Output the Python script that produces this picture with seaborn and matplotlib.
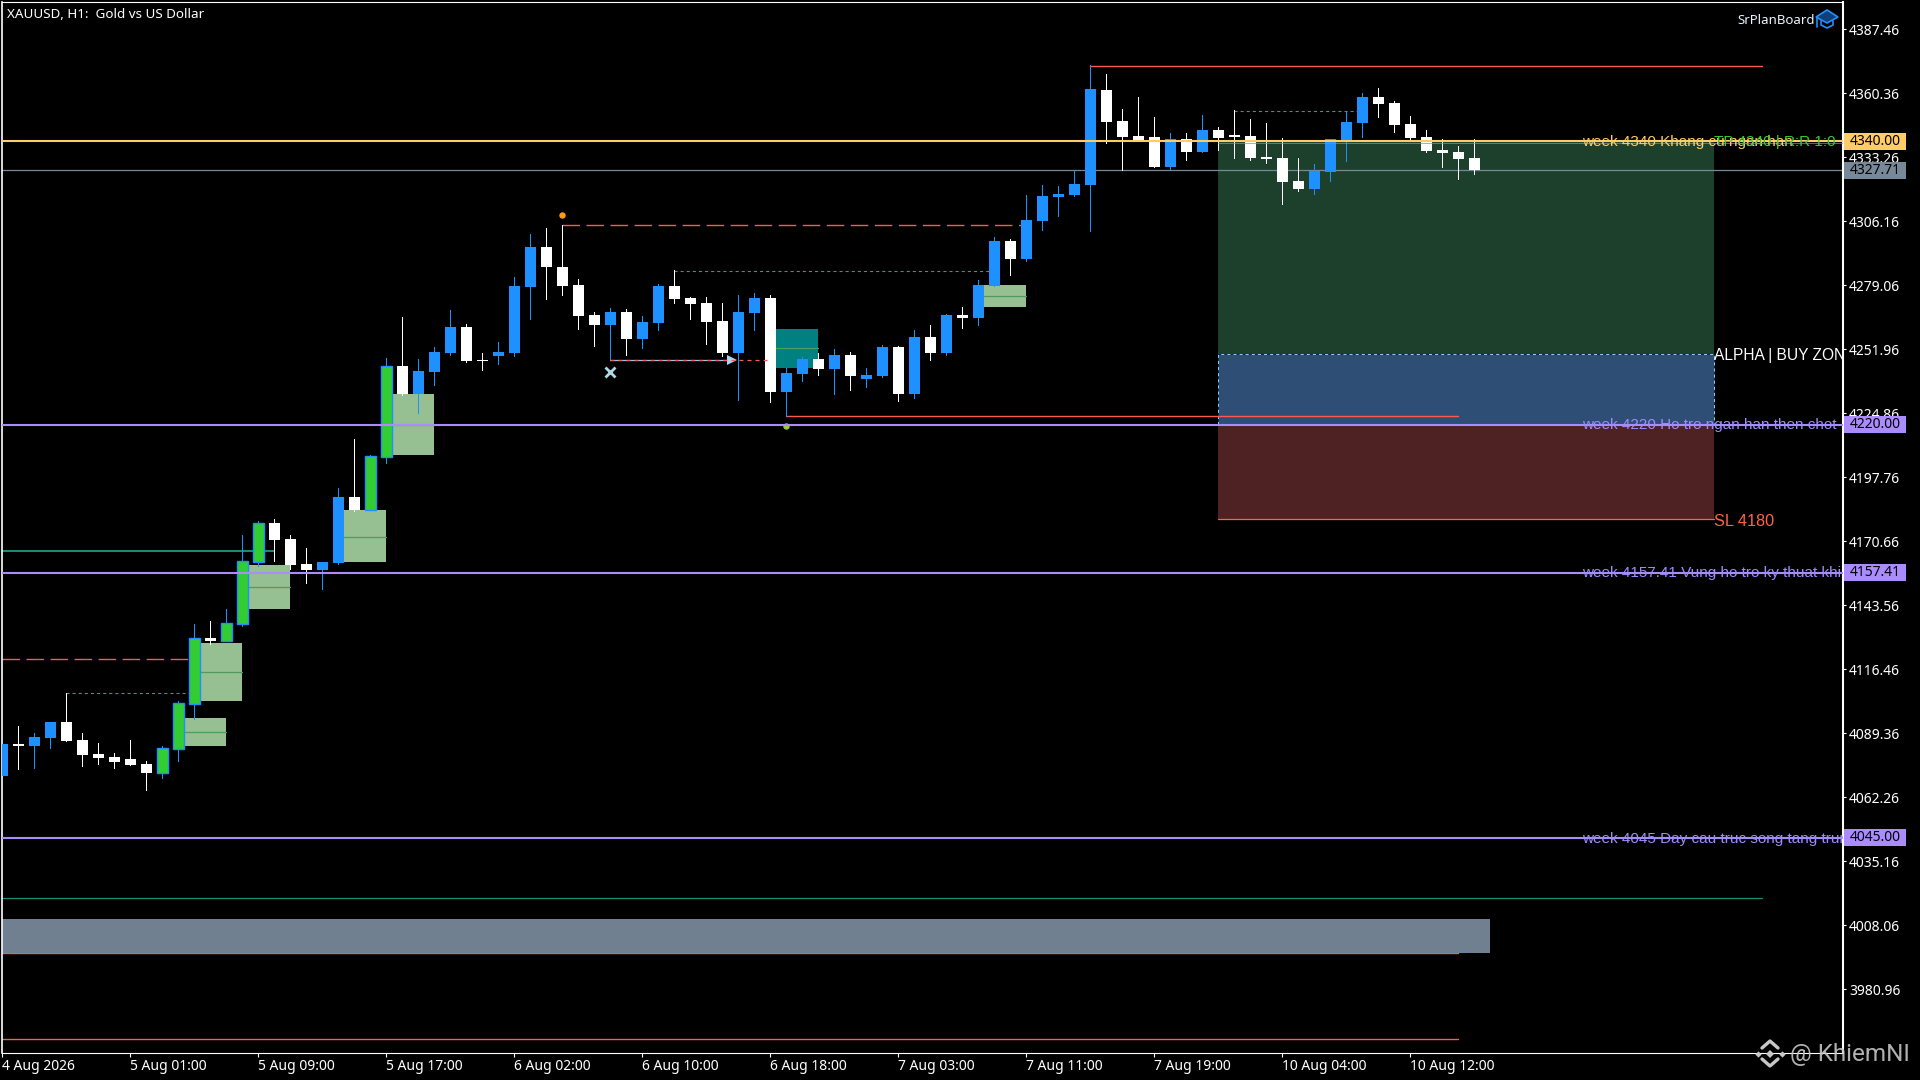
import numpy as np
import pandas as pd
import matplotlib
matplotlib.use('Agg')
import matplotlib.pyplot as plt
from matplotlib.lines import Line2D
from matplotlib.patches import Polygon, Rectangle
import seaborn as sns

# H1 candles (first one is cut by the left edge)
opens = [4071.3, 4084.7, 4083.9, 4087.2, 4094.0, 4086.4, 4080.5, 4079.2, 4078.4, 4076.2,
         4072.4, 4082.6, 4101.6, 4129.6, 4128.3, 4135.5, 4161.8, 4178.3, 4171.5, 4160.9,
         4158.4, 4161.3, 4189.3, 4183.8, 4206.2, 4244.8, 4232.9, 4242.2, 4250.3, 4261.3,
         4247.3, 4249.0, 4250.3, 4278.2, 4295.2, 4286.7, 4279.1, 4266.4, 4262.1, 4267.6,
         4256.2, 4263.0, 4278.6, 4273.6, 4271.4, 4263.8, 4250.3, 4267.2, 4273.6, 4233.8,
         4241.4, 4247.7, 4243.5, 4249.4, 4239.3, 4240.5, 4252.8, 4232.9, 4257.0, 4250.3,
         4266.4, 4265.1, 4278.6, 4297.7, 4290.1, 4306.2, 4316.3, 4317.2, 4321.4, 4361.6,
         4348.5, 4342.2, 4341.7, 4329.0, 4340.9, 4335.4, 4344.7, 4342.6, 4342.2, 4333.3,
         4332.8, 4323.1, 4319.7, 4326.9, 4339.6, 4347.7, 4358.7, 4356.1, 4347.2, 4341.7,
         4336.2, 4335.4, 4332.8]
highs = [4084.7, 4092.3, 4089.4, 4094.0, 4106.6, 4089.4, 4085.1, 4080.9, 4086.4, 4077.5,
         4083.9, 4102.9, 4135.5, 4136.8, 4141.9, 4173.2, 4179.1, 4180.0, 4173.2, 4167.7,
         4161.8, 4193.1, 4213.9, 4207.1, 4248.2, 4265.5, 4247.7, 4252.8, 4268.5, 4262.5,
         4250.3, 4254.9, 4282.5, 4300.7, 4303.2, 4304.5, 4281.6, 4267.6, 4269.3, 4268.9,
         4265.9, 4279.5, 4285.4, 4274.0, 4274.0, 4271.4, 4274.8, 4275.7, 4274.8, 4243.9,
         4248.6, 4250.3, 4252.0, 4250.7, 4243.9, 4253.6, 4253.2, 4260.0, 4262.1, 4266.8,
         4269.7, 4281.2, 4299.4, 4298.5, 4317.2, 4321.4, 4321.0, 4327.8, 4372.2, 4368.4,
         4353.6, 4358.7, 4350.2, 4343.4, 4343.4, 4351.0, 4346.0, 4353.2, 4349.3, 4347.7,
         4341.3, 4332.8, 4330.3, 4340.9, 4352.7, 4360.4, 4362.5, 4357.0, 4350.6, 4344.7,
         4340.9, 4337.9, 4340.9]
lows = [4071.3, 4074.1, 4074.5, 4083.0, 4086.0, 4075.4, 4076.2, 4074.5, 4075.8, 4065.2,
        4070.3, 4077.5, 4095.3, 4127.0, 4128.3, 4134.7, 4160.1, 4162.2, 4158.8, 4152.9,
        4150.3, 4160.9, 4183.4, 4183.8, 4203.7, 4232.5, 4224.9, 4236.7, 4249.4, 4246.5,
        4243.1, 4245.6, 4249.0, 4264.7, 4273.1, 4274.8, 4260.4, 4253.2, 4247.3, 4249.4,
        4252.4, 4260.0, 4271.4, 4264.7, 4254.1, 4249.0, 4230.4, 4260.0, 4229.5, 4223.6,
        4238.4, 4240.9, 4232.9, 4234.6, 4235.9, 4240.1, 4229.9, 4231.2, 4247.3, 4249.4,
        4260.8, 4262.1, 4278.6, 4283.3, 4289.2, 4302.4, 4308.3, 4316.7, 4301.9, 4339.2,
        4327.8, 4340.5, 4329.0, 4328.2, 4332.0, 4335.4, 4336.2, 4332.8, 4332.0, 4330.7,
        4313.4, 4318.9, 4317.6, 4323.1, 4331.6, 4341.7, 4350.2, 4343.9, 4340.9, 4335.4,
        4329.0, 4323.9, 4326.1]
closes = [4084.7, 4083.9, 4087.7, 4094.0, 4086.0, 4080.0, 4078.8, 4077.1, 4075.8, 4072.4,
          4083.0, 4102.1, 4129.6, 4128.3, 4135.9, 4162.2, 4178.3, 4171.1, 4160.5, 4158.4,
          4161.8, 4189.3, 4183.8, 4206.7, 4244.8, 4232.9, 4242.6, 4250.7, 4261.3, 4246.9,
          4246.9, 4250.7, 4278.6, 4295.2, 4286.7, 4278.6, 4265.9, 4262.1, 4267.6, 4256.2,
          4263.4, 4278.6, 4273.1, 4271.0, 4263.4, 4250.3, 4267.6, 4273.6, 4233.8, 4241.8,
          4247.7, 4243.5, 4249.4, 4240.5, 4240.9, 4252.8, 4232.9, 4257.0, 4250.3, 4266.4,
          4265.1, 4279.1, 4297.7, 4290.1, 4306.6, 4316.7, 4317.6, 4321.8, 4362.1, 4348.1,
          4341.7, 4340.5, 4329.0, 4340.9, 4335.4, 4344.7, 4341.3, 4341.7, 4332.8, 4332.4,
          4322.7, 4319.7, 4327.3, 4340.9, 4348.1, 4358.7, 4355.7, 4346.8, 4341.3, 4335.8,
          4335.0, 4332.4, 4327.8]
green_bars = [10, 11, 12, 14, 15, 16, 23, 24]

# 3-bar order blocks: start bar, top, middle, bottom
block_start = [11, 12, 15, 21, 24, 61]
block_top = [4095.7, 4127.5, 4160.5, 4183.8, 4232.9, 4279.1]
block_mid = [4089.8, 4115.2, 4151.2, 4172.4, 4219.8, 4274.4]
block_bottom = [4083.8, 4102.9, 4141.9, 4161.8, 4207.1, 4269.7]
teal_start, teal_top, teal_mid, teal_bottom = 48, 4260.4, 4252.4, 4243.9

# trade zones
zone_start, zone_end = 76, 107
tp_price, entry_top, entry_bottom, sl_price = 4340.0, 4250.1, 4220.0, 4180.0

# full width levels
week_levels = [4220.0, 4157.41, 4045.0]
week_texts = ['week 4220 Ho tro ngan han then chot',
              'week 4157.41 Vung ho tro ky thuat khi',
              'week 4045 Day cau truc song tang trung']
gold_level = 4340.0
gold_text = 'week 4340 Khang cu ngan han'
tp_text = 'TP 4340 | R:R 1:0'
bid_level = 4327.71

# short structure lines: price, first bar, last bar
red_solid = [(4372.1, 68, 110), (4223.9, 49, 91), (3996.1, -1, 91), (3959.7, -1, 91)]
red_dash = [(4121.0, 0, 12), (4304.4, 35, 64)]
green_dot = [(4106.6, 4, 12), (4285.3, 42, 62), (4353.0, 77, 85)]
teal_thick = (4166.4, 0, 17)
teal_thin = (4019.4, 0, 110)
grey_band_top, grey_band_bottom, grey_band_end = 4010.6, 3996.2, 93

# trade arrow line and the single markers
arrow_price, arrow_start, arrow_end, arrow_dash_end = 4247.6, 38, 45.6, 48
cross_bar, cross_price = 38, 4242.3
orange_bar, orange_price = 35, 4308.8
lime_bar, lime_price = 49, 4219.5

y_ticks = [4387.46, 4360.36, 4333.26, 4306.16, 4279.06, 4251.96, 4224.86, 4197.76,
           4170.66, 4143.56, 4116.46, 4089.36, 4062.26, 4035.16, 4008.06, 3980.96]
x_tick_bars = [0, 8, 16, 24, 32, 40, 48, 56, 64, 72, 80, 88]
x_tick_labels = ['4 Aug 2026', '5 Aug 01:00', '5 Aug 09:00', '5 Aug 17:00', '6 Aug 02:00',
                 '6 Aug 10:00', '6 Aug 18:00', '7 Aug 03:00', '7 Aug 11:00', '7 Aug 19:00',
                 '10 Aug 04:00', '10 Aug 12:00']

BLUE = '#1E90FF'
GREEN = '#32CD32'
PURPLE = '#AA8CFF'
GOLD = '#FFCC66'
SLATE = '#778899'
RED = '#FF5A50'
TEAL = '#14907A'
LOGO = '#C8C8C8'

sns.set_theme(style='dark', rc={
    'figure.facecolor': 'black', 'axes.facecolor': 'black', 'savefig.facecolor': 'black',
    'axes.edgecolor': 'white', 'text.color': 'white', 'xtick.color': 'white',
    'ytick.color': 'white', 'lines.scale_dashes': False,
})
plt.rcParams['font.family'] = ['Noto Sans', 'DejaVu Sans']

fig = plt.figure(figsize=(19.2, 10.8), dpi=100)
ax = fig.add_axes([2 / 1920, 27 / 1080, 1841 / 1920, 1051 / 1080])

df = pd.DataFrame({'bar': np.arange(len(opens)), 'open': opens, 'high': highs,
                   'low': lows, 'close': closes})
df['top'] = df[['open', 'close']].max(axis=1)
df['bottom'] = df[['open', 'close']].min(axis=1)
df['kind'] = np.where(df['close'] >= df['open'], 'up', 'down')
df.loc[df['bar'].isin(green_bars), 'kind'] = 'green'

# trade zones
ax.add_patch(Rectangle((zone_start, entry_top), zone_end - zone_start, tp_price - entry_top,
                       fc='#1C402C', ec='none', zorder=1))
ax.add_patch(Rectangle((zone_start, entry_bottom), zone_end - zone_start, entry_top - entry_bottom,
                       fc='#2E4E76', ec='#87CEFA', lw=0.72, ls=(0, (2.2, 2.2)), zorder=1))
ax.add_patch(Rectangle((zone_start, sl_price), zone_end - zone_start, entry_bottom - sl_price,
                       fc='#4E2222', ec='none', zorder=1))
ax.plot([zone_start, zone_end], [sl_price, sl_price], color='#FF6347', lw=0.9, zorder=1.5)

# order blocks
for start, top, mid, bottom in zip(block_start, block_top, block_mid, block_bottom):
    ax.add_patch(Rectangle((start, bottom), 3, top - bottom, fc='#96BF92', ec='none', zorder=1.2))
    ax.plot([start, start + 3], [mid, mid], color='#4E9E5A', lw=0.9, zorder=1.3)
ax.add_patch(Rectangle((teal_start, teal_bottom), 3, teal_top - teal_bottom,
                       fc='#008080', ec='none', zorder=1.2))
ax.plot([teal_start, teal_start + 3], [teal_mid, teal_mid], color='#4E9E5A', lw=0.9, zorder=1.3)

# structure lines
for price, first, last in red_solid:
    ax.plot([first, last], [price, price], color=RED, lw=1.0, zorder=1.5)
for price, first, last in red_dash:
    ax.plot([first, last], [price, price], color=RED, lw=1.0, ls=(0, (12.6, 4.7)), zorder=1.5)
for price, first, last in green_dot:
    ax.plot([first, last], [price, price], color='#1FA58A', lw=0.8, ls=(0, (2.2, 2.2)), zorder=1.5)
ax.plot(teal_thick[1:], [teal_thick[0]] * 2, color=TEAL, lw=1.4, zorder=1.5)
ax.plot(teal_thin[1:], [teal_thin[0]] * 2, color=TEAL, lw=0.9, zorder=1.5)
ax.add_patch(Rectangle((-1, grey_band_bottom), grey_band_end + 1, grey_band_top - grey_band_bottom,
                       fc='#708090', ec='none', zorder=1.6))
ax.axhline(bid_level, color=SLATE, lw=0.9, zorder=1.9)

# candles
ax.vlines(df['bar'], df['low'], df['high'], colors=np.where(df['close'] >= df['open'], BLUE, 'white'),
          lw=0.72, zorder=2, antialiased=False)
for kind, color, edge, width in [('up', BLUE, 'none', 0.69), ('down', 'white', 'none', 0.69),
                                 ('green', GREEN, BLUE, 0.66)]:
    sub = df[df['kind'] == kind]
    sns.barplot(x=sub['bar'].values, y=(sub['top'] - sub['bottom']).values, bottom=sub['bottom'].values,
                native_scale=True, width=width, color=color, saturation=1, edgecolor=edge,
                linewidth=1.0 if kind == 'green' else 0, errorbar=None, ax=ax, zorder=3)

# arrow trade line and markers
ax.plot([arrow_start, arrow_start], [arrow_price, lows[arrow_start]], color=BLUE, lw=0.9, zorder=3)
ax.plot([arrow_start, arrow_end], [arrow_price, arrow_price], color='#87CEEB', lw=0.9, zorder=4)
ax.plot(arrow_end, arrow_price, marker='>', ms=7, color='#A8D8F0', mew=0, zorder=4.5)
ax.plot([arrow_start, arrow_dash_end], [arrow_price, arrow_price], color=RED, lw=0.9,
        ls=(0, (2.9, 2.9)), zorder=5)
ax.plot(cross_bar, cross_price, marker='x', ms=7, mec='#ADD8E6', mew=2, zorder=5)
ax.plot(orange_bar, orange_price, marker='o', ms=3.6, color='#FF9A1A', zorder=5)
ax.plot(lime_bar, lime_price, marker='o', ms=3.6, color='#9ACD32', zorder=2)

# levels
ax.axhline(gold_level, color=GOLD, lw=1.5, zorder=6)
ax.plot([zone_start, 115.04], [tp_price - 0.5, tp_price - 0.5], color='#32CD32', lw=0.5, zorder=6.1)
for level in week_levels:
    ax.axhline(level, color=PURPLE, lw=1.5, zorder=6)

LABEL_FONT = ['Liberation Sans', 'DejaVu Sans']
for level, text in zip(week_levels, week_texts):
    ax.text(98.7, level - 0.25, text, color='#9C8CFF', fontsize=11, family=LABEL_FONT, va='center',
            clip_on=True, zorder=7)
ax.text(98.7, gold_level - 0.25, gold_text, color=GOLD, fontsize=11, family=LABEL_FONT, va='center',
        clip_on=True, zorder=7)
ax.text(107, tp_price - 0.25, tp_text, color='#32CD32', fontsize=11, family=LABEL_FONT, va='center',
        clip_on=True, zorder=7)
ax.text(107, entry_top - 0.8, 'ALPHA | BUY ZONE', color='white', fontsize=11.2, family=LABEL_FONT, va='center',
        clip_on=True, zorder=7)
ax.text(107, sl_price - 0.8, 'SL 4180', color='#FF6347', fontsize=11.7, family=LABEL_FONT, va='center',
        clip_on=True, zorder=7)

ax.set_xlim(-0.02, 115.04)
ax.set_ylim(3953.95, 4399.0)
ax.set_xlabel('')
ax.set_ylabel('')
ax.grid(False)

ax.yaxis.tick_right()
ax.set_yticks(y_ticks)
ax.set_yticklabels([f'{t:.2f}' for t in y_ticks], fontsize=10)
ax.set_xticks(x_tick_bars)
ax.set_xticklabels(x_tick_labels, fontsize=10, ha='left')
ax.tick_params(axis='y', length=2.4, width=0.8, pad=2, colors='white', right=True, left=False)
ax.tick_params(axis='x', length=3, width=0.8, pad=1.5, colors='white', bottom=True)

for side, width in [('left', 1.2), ('right', 1.5), ('top', 0.8), ('bottom', 0.8)]:
    ax.spines[side].set_visible(True)
    ax.spines[side].set_color('white')
    ax.spines[side].set_linewidth(width)

# price tags on the scale
trans = ax.get_yaxis_transform()
for level, color in [(gold_level, GOLD), (bid_level, SLATE), (4220.0, PURPLE),
                     (4157.41, PURPLE), (4045.0, PURPLE)]:
    ax.add_patch(Rectangle((1.0005, level - 3.6), 0.0337, 7.2, transform=trans, fc=color, ec='none',
                           clip_on=False, zorder=20))
    ax.text(1.0036, level, f'{level:.2f}', transform=trans, color='black', fontsize=10, va='center',
            ha='left', clip_on=False, zorder=21)

fig.text(7 / 1920, 1 - 15 / 1080, 'XAUUSD, H1:  Gold vs US Dollar', color='white', fontsize=9.7, va='center')
fig.text(1737 / 1920, 1 - 20 / 1080, 'SrPlanBoard', color='#E8F4FF', fontsize=9.5, va='center')


def px(x, y):
    return (x / 1920, 1 - y / 1080)


def fig_line(points, **kw):
    xs, ys = zip(*[px(*p) for p in points])
    fig.add_artist(Line2D(xs, ys, transform=fig.transFigure, **kw))


# mortarboard icon
fig.add_artist(Polygon([px(1816, 17), px(1827, 10), px(1838, 17), px(1827, 23)], closed=True,
                       fc='#0F3F78', ec=BLUE, lw=1.2, transform=fig.transFigure))
fig_line([(1821, 21), (1821, 25), (1827, 28), (1833, 25), (1833, 21)], color=BLUE, lw=1.2)
fig_line([(1817, 18), (1817, 27)], color=BLUE, lw=1.2)

# watermark
fig.text(1790 / 1920, 1 - 1054 / 1080, '@ KhiemNI', color='#C4C4C4', fontsize=17.5, va='center',
         family=['Roboto', 'DejaVu Sans'], alpha=0.9, zorder=30)
fig_line([(1762, 1048), (1770, 1041), (1778, 1048)], color=LOGO, lw=2.4, zorder=30)
fig_line([(1762, 1059), (1770, 1066), (1778, 1059)], color=LOGO, lw=2.4, zorder=30)
for mx, ms in [(1758, 3.2), (1770, 4.2), (1782, 3.2)]:
    fig.add_artist(Line2D([mx / 1920], [1 - 1053.5 / 1080], marker='D', ms=ms, color=LOGO, mew=0,
                          transform=fig.transFigure, zorder=30))

fig.savefig('out.png', dpi=100)
